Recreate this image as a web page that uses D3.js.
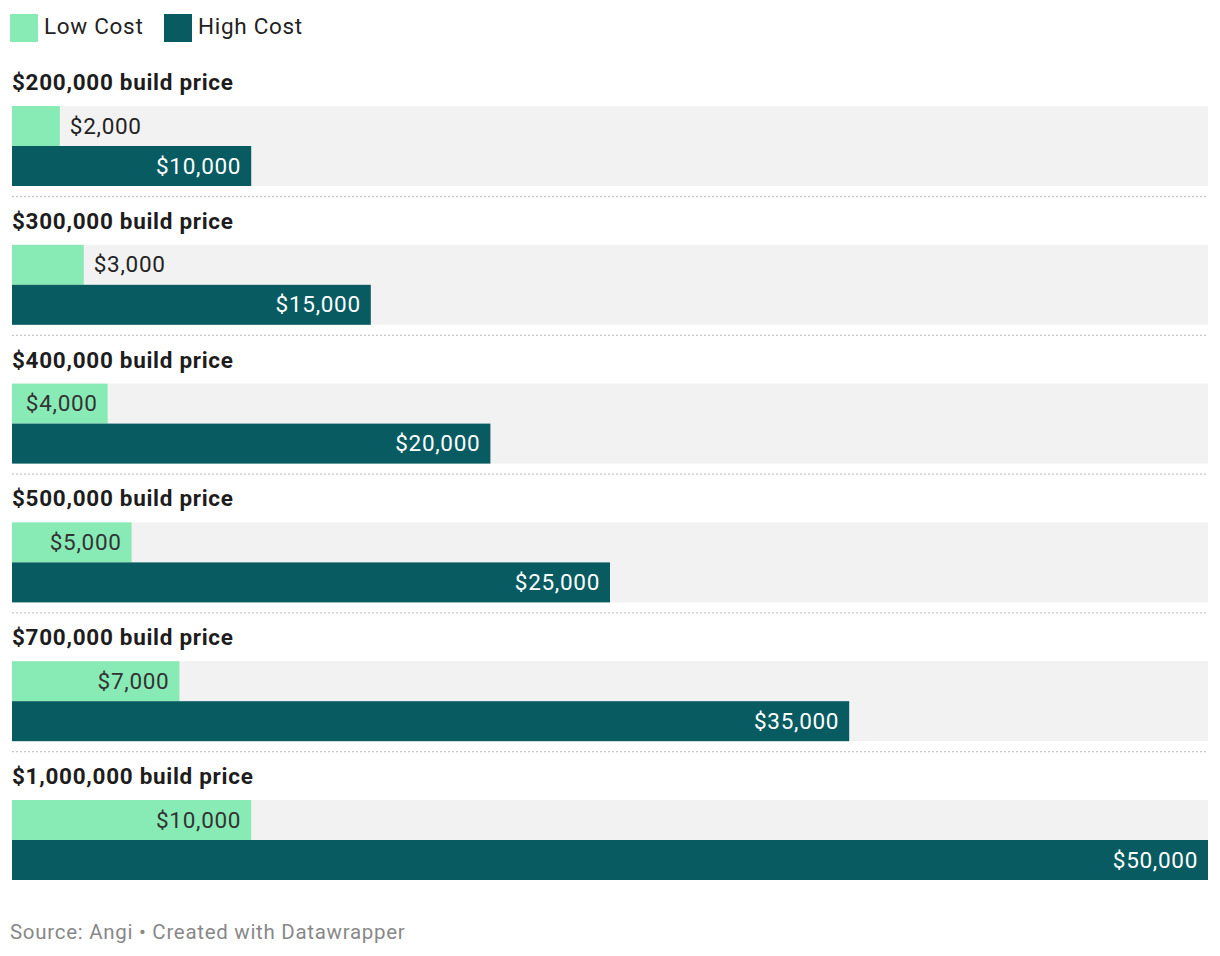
<!DOCTYPE html>
<html><head><meta charset="utf-8">
<script src="https://cdn.jsdelivr.net/npm/d3@7"></script>
<style>body{margin:0;background:#fff;font-family:Roboto,sans-serif}text{letter-spacing:0.7px}</style>
</head><body><svg id="c" width="1220" height="956"></svg>
<script>
const categories = ["$200,000 build price","$300,000 build price","$400,000 build price","$500,000 build price","$700,000 build price","$1,000,000 build price"];
const seriesNames = ["Low Cost","High Cost"];
const lowCost = [2000,3000,4000,5000,7000,10000];
const highCost = [10000,15000,20000,25000,35000,50000];
const colors = ["#88ebb6","#075b61"];
const source = "Source: Angi • Created with Datawrapper";

const svg = d3.select("#c");
const left = 12, right = 1208;
const x = d3.scaleLinear().domain([0,50000]).range([left,right]);
const groupY = d3.scaleLinear().domain([0,5]).range([106,800]);
const barH = 40;
const fs = 22.5;
const fmt = v => "$" + d3.format(",")(v);

// legend
const leg = svg.append("g");
const legX = [10,164];
seriesNames.forEach((n,i)=>{
  leg.append("rect").attr("x",legX[i]).attr("y",14).attr("width",28).attr("height",28).attr("fill",colors[i]);
  leg.append("text").attr("x",legX[i]+34).attr("y",34).attr("font-size",fs).attr("fill","#222").text(n);
});

categories.forEach((c,i)=>{
  const y0 = groupY(i);
  const g = svg.append("g");
  g.append("text").attr("x",12).attr("y",y0-16).attr("font-size",fs).attr("font-weight",700).attr("fill","#1d1d1d").text(c);
  g.append("rect").attr("x",left).attr("y",y0).attr("width",right-left).attr("height",barH*2).attr("fill","#f2f2f2");
  [lowCost[i],highCost[i]].forEach((v,k)=>{
    const yy = y0 + k*barH;
    const w = x(v)-x(0);
    g.append("rect").attr("x",x(0)).attr("y",yy).attr("width",w).attr("height",barH).attr("fill",colors[k]);
    const t = g.append("text").attr("y",yy+barH/2+7.5).attr("font-size",fs).text(fmt(v));
    const tw = t.node().getComputedTextLength();
    if (tw + 20 <= w) {
      t.attr("x",x(v)-10).attr("text-anchor","end").attr("fill",k===0?"#333":"#fff");
    } else {
      t.attr("x",x(v)+10).attr("fill","#222");
    }
  });
  if (i < categories.length-1) {
    g.append("line").attr("x1",left).attr("x2",right).attr("y1",y0+barH*2+10.5).attr("y2",y0+barH*2+10.5)
      .attr("stroke","#c8c8c8").attr("stroke-width",1.3).attr("stroke-dasharray","2,2");
  }
});

svg.append("text").attr("x",10).attr("y",939).attr("font-size",20.5).attr("fill","#888").text(source);
</script></body></html>
